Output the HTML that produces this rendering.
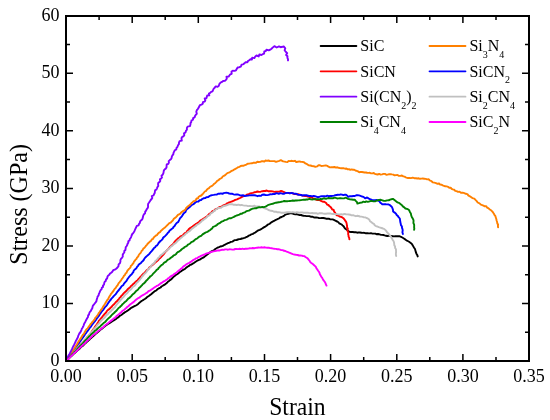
<!DOCTYPE html>
<html><head><meta charset="utf-8"><title>Stress-strain curves</title><style>html,body{margin:0;padding:0;background:#fff;width:550px;height:420px;overflow:hidden}svg{display:block}</style></head><body><svg width="550" height="420" viewBox="0 0 550 420" font-family="'Liberation Serif', 'Times New Roman', serif" fill="#000"><g fill="none" stroke-width="1.90" stroke-linejoin="round" stroke-linecap="round"><path d="M66 361 67 360.1 67.9 359.2 68.9 358.4 69.8 357.4 70.8 356.6 71.8 355.7 72.7 354.8 73.7 353.9 74.7 353 75.7 352.2 76.6 351.2 77.6 350.3 78.6 349.5 79.6 348.7 80.5 347.7 81.4 346.8 82.5 346 83.5 345.2 84.4 344.2 85.3 343.3 86.4 342.5 87.2 341.5 88.3 340.7 89.2 339.8 90.1 338.8 91.1 338 92.1 337.1 93.1 336.3 94 335.3 95 334.5 96 333.6 97.1 332.7 98.2 331.8 99.3 330.8 100.4 329.8 101.5 328.9 102.7 328.1 103.8 327.1 104.9 326.2 106 325.3 107.1 324.6 108.2 323.8 109.4 323.2 110.5 322.5 111.5 321.7 112.7 321.1 113.8 320.3 114.9 319.7 116 319 117.2 317.9 118.6 317.1 119.7 315.9 120.9 315.2 122 314.5 123 313.6 124.1 312.9 125.1 312.1 126.3 311.5 127.4 310.7 128.5 309.9 129.6 309.2 130.6 308.3 131.7 307.6 133.1 306.9 134.5 306.2 135.9 305.5 137.1 304.7 138.2 303.9 139.2 302.9 140.3 302.1 141.3 301.1 142.5 300.5 143.6 299.7 144.8 299 145.9 298.2 146.9 297.3 148 296.5 149.2 295.8 150.2 294.9 151.5 294 152.6 292.9 153.8 291.9 154.9 291.1 156.2 290.5 157.1 289.6 158.2 288.8 159.4 288.1 160.6 287.5 161.5 286.5 162.7 285.8 163.8 285.1 165 284.4 166.1 283.6 167.1 282.8 167.9 281.7 169 280.9 170 280.1 171.1 279.4 172.1 278.5 172.9 277.4 173.9 276.6 174.9 275.8 175.9 274.9 177.1 274.2 178.2 273.5 179.2 272.6 180.2 271.7 181.4 271.1 182.5 270.3 183.6 269.6 184.8 269 185.8 268.1 186.8 267.3 187.9 266.5 189.1 265.9 190.1 264.9 191.5 264.5 192.6 263.7 193.8 263.1 194.9 262.3 196 261.5 197.2 260.8 198.4 260.1 199.7 259.7 200.8 258.9 202 258.2 203.2 257.7 204.2 256.9 205.3 256.1 206.3 255.2 207.3 254.4 208.3 253.7 209.4 252.8 210.5 252.1 211.6 251.2 213 250.8 214.2 249.9 215.3 249 216.5 248.3 217.8 247.5 219 247.1 220.2 246.5 221.5 246.3 222.8 245.9 223.9 245.2 225.1 244.7 226.5 243.8 228 243.2 229.5 242.6 230.9 241.9 232.4 241.6 233.7 240.7 235 240.1 236.6 240 237.9 239.5 239.2 239.1 240.6 239 241.9 238.5 243.3 238.2 244.7 237.8 246.1 237.2 247.4 236.6 248.7 235.7 250.1 235.1 251.4 234.3 252.9 233.9 254.2 233 255.6 232.3 256.9 231.2 258.2 230.4 259.7 229.8 261.1 229.1 262.5 228.3 263.8 227.4 265.2 226.6 266.5 225.8 267.7 224.7 269.2 224 270.5 223.1 271.8 222.1 273.1 221.3 274.5 220.6 275.9 219.8 277.4 219.2 278.9 218.5 280.1 217.5 281.6 217 282.9 216.4 284.3 215.6 285.5 214.6 286.9 214.2 288.4 213.8 289.9 213.4 291.3 213.4 292.7 213.6 294 214 295.4 214.3 296.9 214.3 298.2 214.7 299.6 215.1 301.1 215 302.4 215.5 303.7 215.8 305.1 215.9 306.5 216.1 307.9 216.1 309.3 216.1 310.7 216.7 312.1 216.7 313.5 217.2 314.9 217.5 316.3 217.4 317.7 217.6 319.1 218.1 320.5 218.1 321.9 217.9 323.3 218 324.6 218.2 326 218.7 327.3 218.8 328.7 218.6 330 219.2 331.3 219.4 332.7 219.4 334.4 220.1 336 221 337.2 221.5 338.4 222.2 339.2 223.3 340.4 223.9 341.6 224.5 342.6 225.4 343.6 226.2 344.2 227.4 345 228.4 346.1 229.2 347.2 230 348.3 230.9 349.4 231.7 351 232 352.6 232 354.3 232.3 355.7 232.2 357.1 232.7 358.5 232.4 359.9 232.5 361.3 232.7 362.7 232.9 364.1 232.8 365.4 233.2 366.8 233.1 368.2 233.3 369.6 233.4 371 233.2 372.4 233.6 373.8 233.6 375.2 233.6 376.5 234.2 377.9 234 379.3 234.3 380.6 234.7 382 234.9 383.3 235 384.7 235.4 386 235.7 387.3 236 388.7 235.7 390 236.1 391.4 236 392.7 236.2 394 236.4 395.3 236.2 396.7 236.2 398 236.2 399.3 236.2 401 236.8 402.7 237.8 403.9 238.5 405.2 239.4 406.4 240.3 407.7 241 409.1 241.8 410.4 242.7 411.7 243.7 412.5 245 413.3 246.4 414.1 247.8 415 249 415.4 250.4 415.8 251.9 416.3 253.4 417.2 254.9 417.7 256.4" stroke="#000000"/><path d="M66 361 66.9 360 67.7 358.9 68.7 358 69.5 356.9 70.5 356 71.4 355 72.4 354 73.2 352.9 74.1 352 75 351 75.8 349.9 76.9 349 77.8 348 78.6 346.9 79.6 346 80.4 344.9 81.3 343.9 82.3 343 83.2 342 83.9 340.9 84.9 339.9 85.8 338.9 86.7 337.9 87.5 336.9 88.5 335.9 89.4 334.9 90.2 333.8 91.1 332.7 91.9 331.5 92.5 330.3 93.4 329.2 94.2 328.1 95 326.9 95.7 325.6 96.7 324.6 97.4 323.4 98.2 322.3 98.8 320.9 99.8 319.8 100.6 318.7 101.7 317.7 102.5 316.5 103.4 315.4 104.3 314.3 105.4 313.3 106.3 312.2 107 310.9 108.1 309.9 109.3 309.1 110.3 308 111.4 307.1 112.3 305.9 113.2 304.9 114.3 304 115.1 303 116 301.9 117.1 301.1 117.9 300 118.9 299.1 119.5 297.9 120.7 297 121.3 295.8 122.4 295 123.2 293.9 124.1 292.9 125.1 292 126.2 291.1 127.1 290 128 289 129.1 288.1 130.1 287.1 131 286.1 132.1 285.2 133 284.2 134.1 283.3 135.1 282.3 136.1 281.4 137.3 280.6 138.1 279.5 139.1 278.5 139.9 277.5 140.9 276.5 141.7 275.5 142.7 274.5 143.6 273.5 144.8 272.7 145.6 271.7 146.4 270.6 147.5 269.7 148.6 268.9 149.2 267.6 150.4 266.9 151.4 265.8 152.5 264.9 153.8 264 154.7 262.9 155.9 262 157.1 261.1 158.2 260.1 159.1 258.8 160.3 257.9 161.3 256.8 162.4 255.7 163.4 254.6 164.3 253.4 165.2 252.2 166.2 251.1 167.2 250 168.4 249.1 169.2 247.8 170 246.8 170.9 245.8 172.1 245.1 173 244.2 173.8 243.1 174.5 242 175.3 241 176.2 240.1 177.2 239.2 178.2 238.2 179.4 237.5 180.4 236.5 181.8 236 182.9 235.2 183.8 234.1 184.8 233.1 186.2 232.6 187 231.2 188.1 230.1 189 228.9 190.2 227.9 191.4 227.3 192.5 226.5 193.5 225.7 194.6 225.1 195.6 224.1 196.7 223.5 197.8 222.7 199 222 200 220.9 201.2 220.1 202.5 219.4 203.6 218.5 204.9 217.8 206 216.9 207.4 215.9 208.6 214.6 209.9 213.5 211.1 212.8 212 211.6 213.1 210.8 214.5 210.3 215.5 209.1 217.1 208.7 218.4 208 219.5 206.9 221.1 206.7 222.3 206.1 223.4 205.4 224.7 204.8 225.9 204.3 226.9 203.3 228.2 202.9 229.3 202.3 230.6 201.9 232.2 201.3 233.8 200.7 235.3 199.9 237 199.4 238.5 198.7 240.1 198 241.5 197.1 243.1 196.3 244.7 195.7 246 195.3 247.1 194.5 248.5 194.4 249.6 193.6 251.2 193.2 252.8 192.8 254.3 192.3 255.9 192 257.5 191.5 259.1 191.9 260.7 191.7 262.3 191.2 263.9 191 265.3 191 266.7 190.5 268.1 191.2 269.6 191.1 271.1 191.2 272.7 191.4 274.3 191.9 276 191.6 277.7 191.7 279.4 191.6 281 191 282.3 191.3 283.5 191.8 284.7 192.4 285.9 192.9 287.3 192.9 288.7 193.1 290.1 192.9 291.4 193.1 292.7 193.3 294 194 295.5 193.9 296.8 194.4 298.3 194.3 299.7 194.6 301 195 302.4 195.6 303.7 195.9 305.1 196.1 306.6 196.1 307.9 196.5 309.3 196.8 310.6 197.3 312.1 197.5 313.2 198.6 314.7 198.6 315.9 199.6 317.3 200 318.9 199.8 320.2 200.5 321.5 201.2 322.8 201.7 324.3 201.8 325.4 202.5 326.4 203.3 327.1 204.6 328.4 205 329.3 206 330.5 206.9 331.4 208.1 332.2 209.4 333.7 210 334.1 211.6 335.1 212.7 335.8 214.1 336.7 215.3 338.3 215.6 339.5 216.5 341 216.8 342.3 217.4 343.4 218.2 344.3 219.3 345.2 220.6 346.1 221.9 346.6 223.3 346.8 224.6 347.1 226 347 227.4 347.8 228.6 347.5 230 347.7 231.4 348.4 232.6 348.1 234 348.5 235.3 348.6 236.7 349.2 237.9 349.4 239.3" stroke="#ff0000"/><path d="M66 361 66.8 359.9 67.6 358.9 68.3 357.8 69.1 356.7 69.8 355.6 70.6 354.5 71.3 353.4 72.1 352.4 73 351.4 73.7 350.2 74.5 349.3 75.2 348.1 76 347 76.8 346 77.5 344.9 78.3 343.8 79.2 342.8 79.9 341.7 80.7 340.7 81.4 339.6 82.2 338.5 83 337.5 83.7 336.3 84.5 335.3 85.1 334.1 86.1 333.1 86.8 332 87.7 330.9 88.5 329.8 89.2 328.7 90 327.5 91 326.6 91.6 325.3 92.5 324.3 93.3 323.2 94.1 322.1 95.1 321 95.9 320 96.6 318.7 97.5 317.7 98.2 316.5 99.1 315.5 99.8 314.3 100.6 313.2 101.4 312 102.2 310.9 103.3 309.8 104.1 308.5 105 307.2 106.1 306.1 107 305 107.7 303.8 108.4 302.7 109.2 301.6 110 300.5 110.9 299.5 111.7 298.3 112.7 297.3 113.5 296.3 114.5 295.3 115.5 294.3 116.3 293.3 117.1 292.1 118 291 118.9 290 119.7 288.9 120.5 287.9 121.3 286.7 122.3 285.7 123.4 284.9 124 283.6 124.9 282.6 125.8 281.6 126.7 280.6 127.3 279.4 128.1 278.3 128.9 277.2 129.8 276.2 130.6 275.2 131.7 274.3 132.4 273.2 133.3 272.1 133.7 270.8 134.5 269.7 135.7 268.9 136.6 267.9 137.2 266.7 138.1 265.8 138.8 264.5 139.9 263.7 141 262.9 141.8 261.9 142.8 261 143.7 260 144.3 258.8 145.1 257.7 146.1 256.8 147.1 255.9 148.1 255 149.1 254.1 149.9 253.1 150.8 252 151.7 251.1 152.5 250 153.4 249 154.1 247.9 155.3 247.2 155.9 246 157.2 245.3 157.9 244.2 158.6 243 159.5 242 160.4 241 161.5 240.2 162.4 239.3 163 238 163.9 237 165 236.2 166 235.2 166.9 234.1 167.7 233 168.8 232.1 169.5 230.8 170.5 229.9 171.6 229 172.8 228.2 173.5 227 174.6 226.1 175.3 224.8 176.1 223.7 177.1 222.7 178.3 221.9 178.9 220.6 179.5 219.4 180.1 218.1 181.1 217.2 182 216.1 182.7 214.9 183.4 213.7 184.4 212.8 185.5 211.9 186 210.5 186.8 209.3 187.9 208.4 189.1 207.4 190.4 206.5 191.4 205.2 192.9 204.5 194.2 203.6 195.4 202.6 196.7 201.6 198.4 201.5 199.5 200.3 201.1 200 202.2 199 203.6 198.3 205.1 198.1 206.4 197.2 208 197.1 209.3 196.2 210.7 195.5 212.2 195.1 213.7 194.9 215.2 194.6 216.7 194.6 218.1 193.8 219.5 193.7 221 193.4 222.4 193.9 223.7 193.1 225 192.9 226.3 192.8 227.7 192.9 229.2 193.5 230.8 193.7 232.4 193.8 233.6 194.3 234.8 194.6 236.2 194.5 238.1 194.5 240 195.4 241.6 195.5 243.3 195.3 244.8 196.1 246.4 195.7 248 195.6 249.6 195.4 251.2 195.2 252.7 195.1 254.3 195.3 255.9 195.5 257.5 196.2 259.1 195.7 260.8 195.9 262.2 194.8 263.9 194.5 265.4 195 267 195.1 268.6 194.9 270 194.3 271.6 194.4 273 194 274.6 194.1 275.9 193.2 277.4 193.4 278.8 193.8 280.1 193.1 281.5 193.4 282.9 193.8 284.3 193.7 285.7 193 287.1 192.9 288.5 192.9 289.9 193.5 291.3 192.9 292.7 193.2 294 193.7 295.5 193.6 296.9 193.9 298.1 194.8 299.6 194.9 301.1 195 302.4 195.5 303.8 195.2 305.2 195.3 306.6 195.1 307.9 195.8 309.3 196 310.7 196 312.1 196.4 313.6 195.9 314.9 196.2 316.3 196.6 317.7 197.2 319.1 197 320.5 196.4 321.8 196.2 323.2 196.2 324.6 196.1 326 196.4 327.3 195.7 328.7 196.1 330 196 331.4 196 332.7 195.9 334 195.6 335.3 195.2 336.6 195 338 194.8 339.3 194.9 340.7 194.4 342 194.6 343.3 195.1 344.7 194.8 346 194.7 347.3 195.7 348.2 196.9 350 196.2 351.9 196.2 353.3 196 354.8 196 356.2 195.3 357.7 195.3 359.1 195.4 360.5 195.8 361.9 196.5 363.5 196.9 365.1 198.3 367.1 197.5 368.5 198.4 369.9 199.2 372.1 200 373.6 200.3 375.1 200.3 376.9 200 378.7 200.8 379.6 201.5 380.2 202.7 381.4 203.4 382.3 204.4 384.2 204.1 386 204.3 387.4 204.4 388.7 204.5 390 205.2 391.7 206.7 392.4 208.2 393 209.8 393.1 211.5 394.7 212.6 396 213.7 396.7 215 397.8 215.9 398.6 217.1 399.8 218.5 400.1 220.4 400.3 222 400.7 223.6 401 225.2 401.9 226.4 402 227.8 402.5 229.1 402.7 230.5 402.4 232.3 402.9 234" stroke="#0000ff"/><path d="M66 361 66.9 360.1 67.7 359 68.7 358.1 69.5 357.1 70.3 356.1 71.3 355.2 72.2 354.2 72.9 353.1 73.9 352.2 74.8 351.2 75.6 350.2 76.5 349.2 77.3 348.2 78.2 347.3 79.1 346.3 80 345.4 80.9 344.4 81.7 343.4 82.5 342.3 83.5 341.4 84.4 340.5 85.2 339.4 86.1 338.5 86.9 337.5 87.9 336.6 88.7 335.6 89.5 334.5 90.4 333.5 91.3 332.5 92.2 331.5 93.1 330.4 93.8 329.3 94.7 328.3 95.7 327.3 96.5 326.2 97.3 325.1 98.2 324.1 99.2 323.2 99.9 322 100.8 321 101.8 320 102.8 319 103.8 318.2 104.9 317.2 105.7 316.1 106.6 315.1 107.8 314.3 108.6 313.2 109.6 312.1 110.8 311.4 111.6 310.3 112.7 309.4 113.6 308.3 114.7 307.5 115.5 306.2 116.4 305 117.3 303.8 118.4 302.7 119.3 301.5 120.3 300.6 121 299.4 122.1 298.5 122.9 297.5 123.9 296.5 124.7 295.4 125.7 294.4 126.7 293.5 127.7 292.6 128.4 291.4 129.4 290.6 130.5 289.7 131.5 288.8 132.2 287.7 133.1 286.7 134.3 286 135.2 285.1 136 284 136.7 282.8 137.9 282 138.6 280.9 139.7 280 140.4 278.9 141.4 277.9 142 276.6 143.1 275.8 143.8 274.6 144.8 273.6 145.8 272.7 146.7 271.7 147.3 270.4 148.2 269.4 149.1 268.4 150.1 267.4 150.9 266.3 151.7 265.2 152.6 264.2 153.7 263.4 154.7 262.4 155.3 261.1 156.4 260.2 157.4 259.3 158.1 258 159.3 257.3 159.9 256 161 255.1 162.1 254.3 163.1 253.5 164 252.5 165.1 251.7 166.2 250.9 167.2 250 168.3 249.2 169.3 248.3 170.3 247.4 171.1 246.4 172.3 245.8 173.2 244.9 174.1 243.9 175.3 243.3 176.3 242.5 177.1 241.5 178 240.5 179.1 239.8 180 238.7 180.9 237.9 182 237.2 182.9 236.2 184 235.5 185 234.7 185.8 233.6 187.1 233 188 231.8 189.3 231.3 190.4 230.4 191.4 229.4 192.3 228.3 193.6 227.6 194.6 226.7 195.9 226.1 196.7 224.8 198 224.3 199.2 223.5 200.2 222.5 201.3 221.7 202.1 220.5 203.5 220 204.4 218.9 205.7 218.3 206.7 217.4 207.5 216.2 208.8 215.6 210 214.8 210.6 213.5 211.8 212.8 213 212.2 213.8 211 215.1 210.5 215.9 209.3 217.1 208.8 218.3 208 219.7 207.8 221.1 207.7 222.5 206.6 224.1 206 225.8 205.5 227.3 205 228.9 204.4 230.4 204.2 232.1 204.2 233.7 204.8 235.3 204.7 236.8 205 238.5 204.6 240 205.2 241.6 204.9 243.2 205.4 244.8 205.6 246.4 205.6 248 206.1 249.6 206 251.2 206.1 252.7 206.3 254.3 205.7 255.9 206.5 257.5 206.4 259.1 206.4 260.6 207.2 262.3 207.3 263.8 208.2 265.4 208.6 267.1 209.1 268.5 210 271 210.8 272.7 211 274.3 211.8 276.1 211.7 277.4 212.3 278.8 212.1 280.1 212.4 281.5 212.8 282.9 212.6 284.3 212.8 285.7 212.5 287.1 212.2 288.5 212.2 289.9 212.2 291.3 212.4 292.7 212.3 294.1 212.4 295.5 212.7 296.9 212.2 298.2 212.4 299.6 212.7 301 212.4 302.4 212.4 303.8 212.7 305.2 212.6 306.5 212.8 307.9 212.8 309.3 213.1 310.7 213.1 312.1 213 313.5 213.3 314.9 213.3 316.3 213.2 317.7 213.8 319.1 213.3 320.5 213.3 321.9 213.2 323.2 213.6 324.6 213.8 326 213.7 327.4 213.5 328.8 213.5 330.2 213.4 331.5 213.9 332.9 214 334.3 213.9 335.7 214.1 337.1 214.1 338.5 214.4 339.9 214.4 341.3 214.1 342.7 214.6 344.3 213.9 346 214.2 347.4 214.4 348.8 214.5 350.2 214.7 351.5 215.4 353 215.1 354.3 215.7 355.7 216.2 357.1 215.8 358.5 216 359.9 216.5 361.3 216.6 362.7 216.9 363.9 217.4 365.3 217.4 366.5 218 367.7 218.4 369.2 219.5 370 221.2 371.2 222.1 372.4 223.1 373.9 223.8 374.7 225.2 375.9 226.1 377.4 226.5 378.7 227.2 380.2 227.6 381.6 228 383 228.5 384.4 229.1 385.5 230.1 386.4 231.2 387.2 232.4 388.2 233.4 389.2 234.4 389.9 235.5 390.8 236.5 391.4 237.7 392.1 238.7 392.7 240 393.5 241 394 242.3 394.2 243.8 394.3 245.2 395.1 246.5 395.1 248 396 249.2 396 250.6 396.1 252 395.9 253.3 395.9 254.7 396.2 256" stroke="#c0c0c0"/><path d="M66 361 66.7 359.9 67.5 358.8 68.1 357.7 68.8 356.6 69.6 355.6 70.3 354.4 71 353.3 71.7 352.2 72.5 351.2 73.1 350 73.9 349 74.6 347.9 75.4 346.8 76 345.6 76.8 344.6 77.4 343.5 78.1 342.3 78.8 341.2 79.6 340.2 80.2 339 81.1 338 81.6 336.8 82.3 335.7 83 334.6 84 333.7 84.5 332.5 85.2 331.3 85.9 330.2 86.7 329.2 87.6 328.3 88.4 327.2 89.2 326.2 90 325.2 90.6 324 91.5 323.1 92.3 322 93.2 321.1 94 320 94.9 318.9 95.4 317.6 96.5 316.6 97.3 315.5 98.2 314.4 98.7 313.1 99.6 312 100.4 310.9 101.1 309.7 102.1 308.6 102.9 307.3 103.5 306 104.4 304.8 105.2 303.5 105.9 302.2 106.7 300.9 107.4 299.8 108.3 298.8 108.8 297.5 109.5 296.4 110.3 295.3 110.8 294.1 111.7 293.1 112.5 292 113.4 291 114 289.9 114.8 288.8 115.8 287.9 116.4 286.7 117.3 285.7 118 284.5 118.5 283.3 119.4 282.3 120.2 281.3 121.1 280.3 121.7 279.1 122.6 278.1 123.3 277 124 275.8 125 274.9 125.5 273.6 126.5 272.8 127 271.5 127.7 270.3 128.6 269.3 129.6 268.4 130.5 267.4 130.8 266 131.8 265.1 132.6 264 133.5 263 134 261.7 134.9 260.7 135.6 259.6 136.6 258.7 137.1 257.4 138.2 256.6 138.6 255.3 139.4 254.2 140.4 253.2 141 252.1 141.6 250.9 142.7 250 143.3 248.6 144.5 247.8 145.3 246.7 146.1 245.6 147.1 244.6 147.9 243.4 149 242.5 150 241.5 151.2 240.7 151.8 239.4 153.1 238.8 153.7 237.5 154.7 236.6 155.7 235.7 156.9 235.1 157.7 234 158.7 232.9 160 232.2 160.8 230.9 161.9 230 163 229 164.2 228.1 165.3 227.2 166.3 226.2 167.3 225.1 168.3 224.2 169.3 223.1 170.7 222.6 171.7 221.5 172.8 220.6 173.6 219.1 174.9 218 176.2 216.9 177.1 216 177.9 214.9 179.1 214.3 180.3 213.7 181.1 212.5 182.1 211.7 183.2 210.9 184.4 210.3 185.5 209.4 186.2 208 187.3 207 188.4 206.1 189.5 205.2 190.6 204.3 191.5 203.1 192.6 202.2 193.6 201.2 195 200.8 195.9 199.8 196.6 198.5 198.1 198.2 198.7 196.7 199.9 196 201.3 195.5 202.2 194.5 203.1 193.6 204 192.5 204.8 191.5 206.1 190.9 206.8 189.7 207.9 188.8 209 188.1 209.9 187 211.1 186.3 212.4 185.7 213.4 184.7 214.3 183.7 215.4 182.9 216.4 181.9 217.2 180.8 218.6 180.2 219.5 179.1 220.7 178.5 221.9 177.7 222.7 176.5 223.9 175.8 225.2 175.1 226.2 174.1 227.3 173.1 228.7 172.7 230 172.1 231.1 171.2 232.3 170.6 233.5 170.1 234.6 169.3 235.8 168.7 236.9 168 238 167.2 239.4 166.9 240.6 166 242.1 165.8 243.6 165.7 245 165.1 246.3 164.6 247.6 163.8 249.1 163.6 250.5 163.4 251.9 163.3 253.2 162.8 254.7 162.7 256.1 162.7 257.3 161.8 258.8 162 260.2 161.9 261.5 161.3 262.9 161.2 264.4 161.5 265.6 160.5 267 160.9 268.3 160.5 269.7 161 271 161.1 272.7 161.1 274.4 161.1 276 161.9 277.6 161.3 279.3 160.9 280.9 160.2 282.1 160.8 283.2 161.4 284.6 161.6 285.8 161.9 287.4 162.1 288.7 161 290.2 161.1 291.8 160.8 293.4 161.2 294.9 160.8 296.2 162 297.8 161.7 299.3 161.4 300.7 161.7 302.2 161.9 304 162.3 305.4 163.4 307.1 164.2 308.6 165.3 310.4 165.5 312.1 166 313.7 166.2 315.3 166.9 317.1 166.4 318.5 165.3 320 165.3 321.4 166 322.9 165.9 324.3 165.6 325.8 165.4 327.3 165.9 328.5 166.7 329.9 167.4 331.5 167.2 333 167.3 334.5 167 336 167.6 337.3 167.3 338.6 167.8 339.9 168.1 341.2 168.3 342.5 168.2 343.8 168.3 345.1 168.7 346.4 168.5 347.7 169.4 349 169.1 350.3 169.8 351.6 169.4 352.9 169.7 354.2 169.8 355.4 170.5 356.7 170.9 358 171.4 359.2 172.2 360.6 171.9 362 172 363.3 172.2 364.6 172.5 365.9 172.5 367.2 172.8 368.5 172.9 369.8 172.8 371.1 173.4 372.4 173.4 373.8 173 375 173.9 376.4 174.3 377.7 174.5 379.2 173.9 380.6 174.6 382 174.4 383.5 173.9 384.9 173.9 386.3 174.8 387.7 174.6 389.1 174.2 390.5 174.1 391.9 174.4 393.3 174.6 394.6 175.3 396 175.1 397.5 175 398.9 175.9 400.4 175.9 401.9 175.5 403.3 176.4 404.5 176.6 405.6 177.3 406.8 177.7 408.2 178 409.6 178 411 178.1 412.7 177.7 414.3 178.2 416 178.2 417.3 178.5 418.7 178.3 420 178.8 421.4 178.6 422.7 178.5 424.2 178.7 425.7 178.9 427.1 179.4 428.6 179.3 429.9 180.5 431.5 181.2 432.7 182.3 434.4 182.7 436 183.1 437.6 183.8 439.1 183.5 440.1 184.6 441.5 184.7 442.7 185.3 444 185.8 445.3 186.3 446.7 186.4 448 186.8 449.2 187.7 450.7 187.7 451.6 188.8 452.8 189.4 454.2 189.7 455.2 190.8 456.6 191.2 458 191.9 459.6 191.8 460.9 192.7 462.7 192.7 464.3 193.1 465.9 193.8 467.4 194.1 468.3 195.4 469.5 196.2 470.9 196.9 472.4 198.1 474.3 198.6 475.5 199.9 476.7 201.1 477.7 202.5 479.5 203.3 480.9 204.7 482.2 205.1 483.5 205.6 484.8 206.3 486.3 206.3 487.2 207.7 488.6 208.4 489.8 209.5 491.1 210.3 492.2 211.4 493.2 212.7 493.9 213.7 494.4 214.9 495.3 215.9 495.8 217.5 496.3 219 496.6 220.5 497.1 222 497.3 223.4 498.1 224.6 497.9 226 498.1 227.4" stroke="#ff8000"/><path d="M66 361 66.6 359.8 67 358.6 67.7 357.4 68.2 356.2 68.8 355 69.7 353.9 70.2 352.7 70.8 351.5 71.4 350.3 72 349.2 72.5 347.9 73.1 346.7 73.7 345.5 74.3 344.4 74.9 343.2 75.5 342 75.9 340.7 76.7 339.6 77.2 338.4 77.9 337.2 78.2 335.9 78.8 334.7 79.3 333.5 80.2 332.5 80.9 331.3 81.4 330.1 81.8 328.8 82.6 327.7 83.2 326.5 83.7 325.3 84.1 324 84.7 322.8 85.4 321.7 85.9 320.5 86.6 319.3 87.3 318.1 88 317 88.1 315.5 89 314.5 89.3 313.1 89.9 311.9 90.9 310.9 91.4 309.6 92.2 308.5 92.5 307.2 92.8 305.9 93.8 304.7 94.7 303.5 95.6 302.4 96.4 301.2 96.7 299.6 97.2 298.1 97.6 296.6 98.6 295.4 98.9 293.8 99.5 292.6 100 291.3 100.6 290.1 101.6 289.2 101.8 287.8 103 286.9 103 285.4 104.1 284.5 104.2 283 104.7 281.8 105.8 280.9 106 279.5 107.1 278.5 107.4 277 108 275.7 109.3 274.8 110 273.6 111.2 272.7 112.3 271.7 113.2 270.2 114.8 269.6 116.2 268.7 117.5 267.5 118.5 266.2 118.6 264.4 119.9 263.2 120.4 261.7 120.4 260.1 121.1 258.7 122.2 257.6 122.8 256.4 122.7 254.8 123.4 253.5 124.3 252.4 124.3 251 125.4 250 125.6 248.7 125.7 247.3 126.5 246.2 127.2 245.1 127.5 243.9 128.3 242.8 128.3 241.3 129.6 240.4 129.8 239 130.6 238 131.2 236.8 131.6 235.5 132.3 234 133.4 232.8 134.3 231.5 134.9 230 135.5 228.6 136.1 227.3 136.8 225.9 138.6 225.3 139 223.9 139.9 222.8 140.1 221.4 141.1 220.3 142.2 219.4 142.7 218.1 143 216.8 143.3 215.4 144 214.3 145.1 213.3 145.2 211.7 146.1 210.6 146.6 209.3 147.6 208.1 148.1 206.8 148 205.2 148.2 203.7 149.1 202.5 149.9 201.3 150.7 200 151.6 199 152.3 197.9 151.8 196.2 153.4 195.5 154 194.3 154.7 193.1 154.9 191.7 155.1 190.4 156.4 189.5 157 188.3 157.4 187.1 158.3 186 158.1 184.5 158.2 183.1 159.4 182.1 160.3 181 159.9 179.4 161.2 178.5 162 177.4 161.5 175.7 162.6 174.7 163.3 173.5 163.6 172.1 163.8 170.7 164.5 169.5 165.8 168.6 166.5 167.4 166.6 166 166.7 164.5 168.3 163.9 168.9 162.7 168.7 161.1 169.8 160.1 170.9 159.2 171.6 158.1 171.8 156.6 172.4 155.4 173.3 154.3 173.5 152.8 174.1 151.6 174.8 150.3 176.3 149.4 176.5 147.9 177.5 146.8 178 145.3 178.9 144.1 179 142.5 179.6 141.1 181.8 140.6 181.5 138.8 181.8 137.3 183.3 136.4 184.3 135.3 184 133.4 185.5 132.5 185.9 130.9 186.9 129.7 186.9 127.9 187.6 126.6 189.9 126.1 190.4 124.7 190.5 123.1 191.3 121.9 191.5 120.4 193 119.7 193.1 118.1 194.6 117.4 195 116.1 195.7 114.9 196.8 113.8 196.3 111.8 196.8 110.2 197.8 109.1 198.6 107.8 199.2 106.5 199.9 105.2 201.5 104.6 202.8 103.8 202.9 102.2 204.5 101.7 205.3 100.6 204.7 98.5 206.4 98.2 206.8 96.9 207.2 95.5 209.3 95.4 208.9 93.5 210.2 92.8 211.1 91.9 212.5 91.4 213.1 90 213.7 88.6 214.7 87.7 215.5 86.4 217.6 86.8 218.7 86 219.5 83.7 220.9 82.4 222 81.9 223.1 81 224.9 80.9 225.9 79.9 226.8 78.7 226.5 76.6 228.6 76.6 229.4 75.5 230.3 74.3 231.7 73.8 231.5 71.5 232.7 70.8 234.6 70.9 236 70.3 236.7 69 237.6 67.5 239.3 67.2 240.8 66.7 241.5 64.7 243.1 64.3 244.4 63.4 245.6 62.3 247.4 62.2 248.1 60.9 249.3 60.2 250.2 59.3 251.9 59.5 252.2 57.6 254.4 58.1 255.3 56.4 256.5 55.5 258.7 56.4 259.4 54.4 261.4 55 262.7 54.2 264.1 53.6 264.3 51.4 265.8 51 266.5 49.6 268.8 50.4 270.2 49.7 271.5 48.7 272.9 47.4 274.4 46.1 276.7 47.5 279 46.4 280.6 47.2 282.5 46.8 283.7 46.4 285.3 48.3 284.6 50.3 285.7 51.8 287.2 53.1 286.1 55 287.5 56.3 287.4 57.8 288 59.1 288 60.4" stroke="#8000ff"/><path d="M66 361 66.9 360.1 67.8 359.1 68.7 358.1 69.6 357.2 70.5 356.2 71.5 355.3 72.2 354.3 73.3 353.4 74 352.4 75.1 351.5 75.9 350.6 76.8 349.5 77.7 348.6 78.6 347.6 79.5 346.7 80.4 345.7 81.3 344.8 82.3 343.9 83.2 343 84.1 342 84.8 340.9 85.8 340 86.8 339.2 87.5 338.1 88.5 337.2 89.4 336.2 90.4 335.4 91.2 334.3 92.3 333.6 93.2 332.6 94.2 331.7 95.1 330.7 96.2 330 97.2 329 98.1 328.1 99.1 327.2 100.2 326.4 101 325.4 102.1 324.6 103 323.6 104 322.7 105.1 322 106 321 106.9 319.9 107.9 318.9 108.9 317.9 110 317 111 316 111.9 314.9 112.9 313.9 114 313 115 312 116.1 311.1 116.9 310.1 117.8 309 118.6 308 119.7 307.3 120.6 306.2 121.6 305.4 122.4 304.2 123.5 303.5 124.4 302.4 125.5 301.6 126.5 300.7 127.4 299.7 128.2 298.6 129.5 297.9 130.3 296.9 131.4 296 132.2 294.9 133.2 294 134.3 293.2 135.2 292.1 136.1 291.1 137.2 290.3 138.2 289.3 138.9 288.2 140 287.3 140.9 286.3 141.9 285.4 142.7 284.3 143.8 283.5 144.8 282.5 145.7 281.5 146.5 280.4 147.6 279.5 148.4 278.4 149.4 277.6 150.2 276.4 151.4 275.7 152.3 274.8 153.1 273.7 154 272.8 155 271.8 155.9 270.9 156.7 269.8 157.9 269.2 158.6 268 159.5 267.1 160.4 266.1 161.4 265.2 162.7 264.5 163.6 263.2 164.7 262.3 166.1 261.6 167 260.5 168.1 259.6 169.4 259 170.5 258.1 171.6 257.2 172.8 256.4 173.7 255.3 175.1 254.8 176.2 253.9 177 252.7 178.2 251.9 179.4 251.3 180.5 250.5 181.5 249.5 182.5 248.6 183.7 248 184.7 247 186 246.4 187.1 245.7 188 244.6 189.2 244 190.4 243.2 191.3 242.2 192.6 241.7 193.8 240.9 194.7 239.9 195.8 239.1 197.1 238.5 198.1 237.6 199.2 236.7 200.5 236.2 201.6 235.4 202.6 234.4 203.8 233.6 205 232.9 206.2 232.2 207.6 231.8 208.7 230.9 209.9 230.2 211 229.3 212.1 228.4 212.8 227.2 214.1 226.5 215.5 225.9 216.8 225.1 217.8 224 219.1 223.3 220.5 222.6 221.7 221.6 223.1 221.1 224.5 220.2 226 219.8 227.3 219.4 228.4 218.6 229.7 218.2 231.1 218.3 232.5 217.5 233.9 216.9 235.2 216.1 236.6 215.5 237.9 215.1 239.3 214.7 240.5 213.7 241.9 213.7 243.2 212.8 244.7 212.4 246 211.4 247.4 210.9 248.9 210.6 250.1 209.9 251.4 209.1 252.8 208.7 254.4 208.3 256.1 208.3 257.5 207.6 259.1 207.3 260.7 207.4 262.3 206.9 263.9 207.1 265.6 206.6 267 205.7 268.5 204.8 271 204.1 272.7 203.8 274.3 203.1 275.9 202.7 277.3 202.5 278.7 202.3 280.1 202.1 281.5 201.7 282.9 201.4 284.2 201 285.7 201.2 287.1 201.3 288.5 201.1 289.9 201 291.3 200.9 292.7 200.5 294.1 200.8 295.5 200.5 296.9 200.5 298.2 200.4 299.6 200.3 301 200.1 302.4 199.9 303.7 199.7 305.2 199.8 306.5 199.5 307.9 199.5 309.3 198.9 310.7 199.2 312.1 199.6 313.5 199.1 314.9 199.3 316.3 199.3 317.7 199.1 319.1 199.5 320.5 198.9 321.9 199.1 323.2 198.5 324.6 198.3 326 198.8 327.4 198.4 328.7 198 330.1 198.2 331.5 198.1 332.9 198.3 334.3 197.7 335.7 197.9 337.1 198.5 338.5 198.4 339.9 198.1 341.3 198.3 342.7 198.4 344.4 198.2 346 197.7 348.1 198.9 349.9 199.3 351.8 199.5 353.2 199.7 354.7 199.7 355.7 200.9 356.9 202 357.4 203.6 359.9 202.8 361.7 202.6 363.4 201.7 365 202.1 366.3 201.4 367.8 201.8 369.7 201.3 371.5 200.9 373.3 201.4 375.1 201.4 376.9 200.5 378.8 200 380.9 199.8 382.4 200.3 384 200.9 385.6 200.7 387.2 200.4 388.8 200.3 390.1 199.6 391.5 199.2 392.9 198.9 394.5 200 396 201.2 397 202.1 398.2 202.7 399.5 203.1 400.7 204.3 402 205.3 403.1 206.6 404.3 207.4 405.4 208.5 407.8 209.1 409.2 210.3 410 212.2 410.9 213.6 411.2 215.3 411.8 216.9 412.9 218.8 413.5 220.1 413.5 221.5 413.4 223.1 414.1 224.5 414.2 225.8 414.1 227.2 414.3 228.5 414.1 229.9" stroke="#008000"/><path d="M66 361 67 360.1 67.9 359.2 69 358.3 69.9 357.3 70.8 356.4 71.8 355.5 72.8 354.6 73.7 353.6 74.7 352.8 75.7 351.8 76.7 351 77.6 350 78.6 349.1 79.5 348.1 80.5 347.2 81.5 346.3 82.5 345.4 83.4 344.5 84.4 343.6 85.4 342.7 86.3 341.7 87.3 340.8 88.3 339.9 89.3 339 90.2 338 91.2 337.1 92.2 336.3 93 335.2 94.1 334.4 95.3 333.7 96.3 332.8 97.3 331.9 98.2 331 99.4 330.3 100.4 329.4 101.5 328.6 102.5 327.8 103.6 326.9 104.5 326 105.5 325.1 106.6 324.3 107.7 323.5 108.7 322.6 109.7 321.7 110.7 320.9 111.9 320.1 112.9 319.3 113.9 318.4 115 317.7 116 316.7 116.9 315.7 118 314.9 119.1 314.1 120.1 313.1 121.2 312.4 122 311.3 123.1 310.5 124.3 309.8 125.2 308.8 126.3 308 127.2 307 128.3 306.2 129.3 305.3 130.4 304.3 131.6 303.5 132.7 302.6 133.9 301.8 134.9 300.7 136 299.8 137 299 138.1 298.2 139.3 297.7 140.3 296.8 141.4 296 142.5 295.3 143.7 294.7 144.9 294 145.9 293.3 147.1 292.6 148 291.6 149.1 290.9 150.4 290.4 151.4 289.5 152.6 288.9 153.6 288 154.7 287.3 155.9 286.5 156.9 285.8 158.2 285.3 159.3 284.4 160.4 283.6 161.5 282.9 162.6 282.2 163.7 281.3 165 280.9 166 280 167.2 279.4 168.1 278.4 169.2 277.7 170.2 276.8 171.2 276 172.5 275.5 173.5 274.7 174.5 273.8 175.7 273.2 176.7 272.4 177.7 271.4 178.8 270.6 179.9 269.9 180.8 268.8 182 268.1 182.8 267 183.9 266.1 185.1 265.4 186.2 264.4 187.4 263.7 188.8 263.2 189.9 262.3 191.2 261.6 192.3 260.7 193.5 259.9 194.7 259.2 195.9 258.4 197.3 258.1 198.4 257.2 199.7 256.7 200.8 255.9 202.1 255.5 203.3 254.9 204.7 254.3 206.1 253.6 207.6 253.1 209.1 252.9 210.5 252.1 211.9 251.8 213.4 251.4 214.9 251.1 216.3 250.8 217.8 250.4 219.3 250.5 220.7 250.1 222.2 249.8 223.7 249.9 225.1 249.4 226.6 249.4 228 249.7 229.5 249.3 230.9 249.4 232.4 249.6 233.9 249.5 235.3 249 236.7 249 238.2 249.1 239.6 248.8 241.1 249.1 242.5 248.7 244 249.1 245.4 248.8 246.9 248.7 248.4 248.6 249.8 248.3 251.3 248.4 252.7 248 254.2 248.2 255.7 247.9 257.1 247.7 258.6 247.5 260 247.6 261.5 247.3 262.9 247.6 264.4 247.3 265.8 247.6 267.3 247.7 268.7 247.6 270.1 248.1 271.6 248.2 273.1 248.6 274.5 248.8 276 248.9 277.3 249.2 278.7 249.3 280 249.6 281.3 250.1 282.7 250.1 284 250.8 285.4 251 286.6 251.7 288 252.1 289.3 252.7 291 253.4 292.8 254.1 294.4 254.5 296.1 254.8 297.7 255 299 255.5 300.4 255.4 301.7 255.6 303 256 304.3 256.1 305.4 257 306.7 257.8 307.8 258.6 308.6 259.6 309.5 260.6 310.1 261.8 310.9 262.7 312.1 263.5 313.1 264.3 314.1 265.2 315.1 266.1 316 267.1 316.4 268.3 317.3 269.3 317.9 270.5 318.7 271.5 319.4 272.6 319.8 274.1 320.6 275.4 321.3 276.7 322.2 277.9 322.9 279.2 323.6 280.4 324.5 281.5 325.3 282.7 325.8 284.2 326.5 285.6" stroke="#ff00ff"/></g><rect x="66" y="16" width="463" height="345" fill="none" stroke="#000" stroke-width="2"/><path d="M99.1 361v-4M99.1 16v4M132.2 361v-7M132.2 16v7M165.2 361v-4M165.2 16v4M198.3 361v-7M198.3 16v7M231.4 361v-4M231.4 16v4M264.5 361v-7M264.5 16v7M297.5 361v-4M297.5 16v4M330.6 361v-7M330.6 16v7M363.7 361v-4M363.7 16v4M396.8 361v-7M396.8 16v7M429.8 361v-4M429.8 16v4M462.9 361v-7M462.9 16v7M496.0 361v-4M496.0 16v4M66 332.3h4M529 332.3h-4M66 303.5h7M529 303.5h-7M66 274.7h4M529 274.7h-4M66 245.9h7M529 245.9h-7M66 217.2h4M529 217.2h-4M66 188.4h7M529 188.4h-7M66 159.6h4M529 159.6h-4M66 130.8h7M529 130.8h-7M66 102.0h4M529 102.0h-4M66 73.3h7M529 73.3h-7M66 44.5h4M529 44.5h-4" stroke="#000" stroke-width="1.5" fill="none"/><path d="M320.6 46.0H356.4" stroke="#000000" stroke-width="1.8" stroke-linecap="round"/><path d="M320.6 71.3H356.4" stroke="#ff0000" stroke-width="1.8" stroke-linecap="round"/><path d="M320.6 96.7H356.4" stroke="#8000ff" stroke-width="1.8" stroke-linecap="round"/><path d="M320.6 122.0H356.4" stroke="#008000" stroke-width="1.8" stroke-linecap="round"/><path d="M429.5 46.0H465.5" stroke="#ff8000" stroke-width="1.8" stroke-linecap="round"/><path d="M429.5 71.3H465.5" stroke="#0000ff" stroke-width="1.8" stroke-linecap="round"/><path d="M429.5 96.7H465.5" stroke="#c0c0c0" stroke-width="1.8" stroke-linecap="round"/><path d="M429.5 122.0H465.5" stroke="#ff00ff" stroke-width="1.8" stroke-linecap="round"/><text x="66.0" y="381.6" text-anchor="middle" font-size="18.0">0.00</text><text x="132.2" y="381.6" text-anchor="middle" font-size="18.0">0.05</text><text x="198.3" y="381.6" text-anchor="middle" font-size="18.0">0.10</text><text x="264.5" y="381.6" text-anchor="middle" font-size="18.0">0.15</text><text x="330.6" y="381.6" text-anchor="middle" font-size="18.0">0.20</text><text x="396.8" y="381.6" text-anchor="middle" font-size="18.0">0.25</text><text x="462.9" y="381.6" text-anchor="middle" font-size="18.0">0.30</text><text x="529.1" y="381.6" text-anchor="middle" font-size="18.0">0.35</text><text x="59.5" y="366.0" text-anchor="end" font-size="18.0">0</text><text x="59.5" y="308.4" text-anchor="end" font-size="18.0">10</text><text x="59.5" y="250.8" text-anchor="end" font-size="18.0">20</text><text x="59.5" y="193.3" text-anchor="end" font-size="18.0">30</text><text x="59.5" y="135.7" text-anchor="end" font-size="18.0">40</text><text x="59.5" y="78.2" text-anchor="end" font-size="18.0">50</text><text x="59.5" y="20.6" text-anchor="end" font-size="18.0">60</text><text transform="translate(297.4,415.4) scale(0.985,1.08)" text-anchor="middle" font-size="24">Strain</text><text transform="translate(26.9,204.4) rotate(-90) scale(1,1.05)" text-anchor="middle" font-size="24">Stress (GPa)</text><text x="360.3" y="51.2" font-size="16">SiC</text><text x="360.3" y="76.5" font-size="16">SiCN</text><text x="360.3" y="101.9" font-size="16">Si(CN<tspan dy="6.7" font-size="10">2</tspan><tspan dy="-6.7">)</tspan><tspan dy="6.7" font-size="10">2</tspan></text><text x="360.3" y="127.2" font-size="16">Si<tspan dy="6.7" font-size="10">4</tspan><tspan dy="-6.7">CN</tspan><tspan dy="6.7" font-size="10">4</tspan></text><text x="469.4" y="51.2" font-size="16">Si<tspan dy="6.7" font-size="10">3</tspan><tspan dy="-6.7">N</tspan><tspan dy="6.7" font-size="10">4</tspan></text><text x="469.4" y="76.5" font-size="16">SiCN<tspan dy="6.7" font-size="10">2</tspan></text><text x="469.4" y="101.9" font-size="16">Si<tspan dy="6.7" font-size="10">2</tspan><tspan dy="-6.7">CN</tspan><tspan dy="6.7" font-size="10">4</tspan></text><text x="469.4" y="127.2" font-size="16">SiC<tspan dy="6.7" font-size="10">2</tspan><tspan dy="-6.7">N</tspan></text></svg></body></html>
